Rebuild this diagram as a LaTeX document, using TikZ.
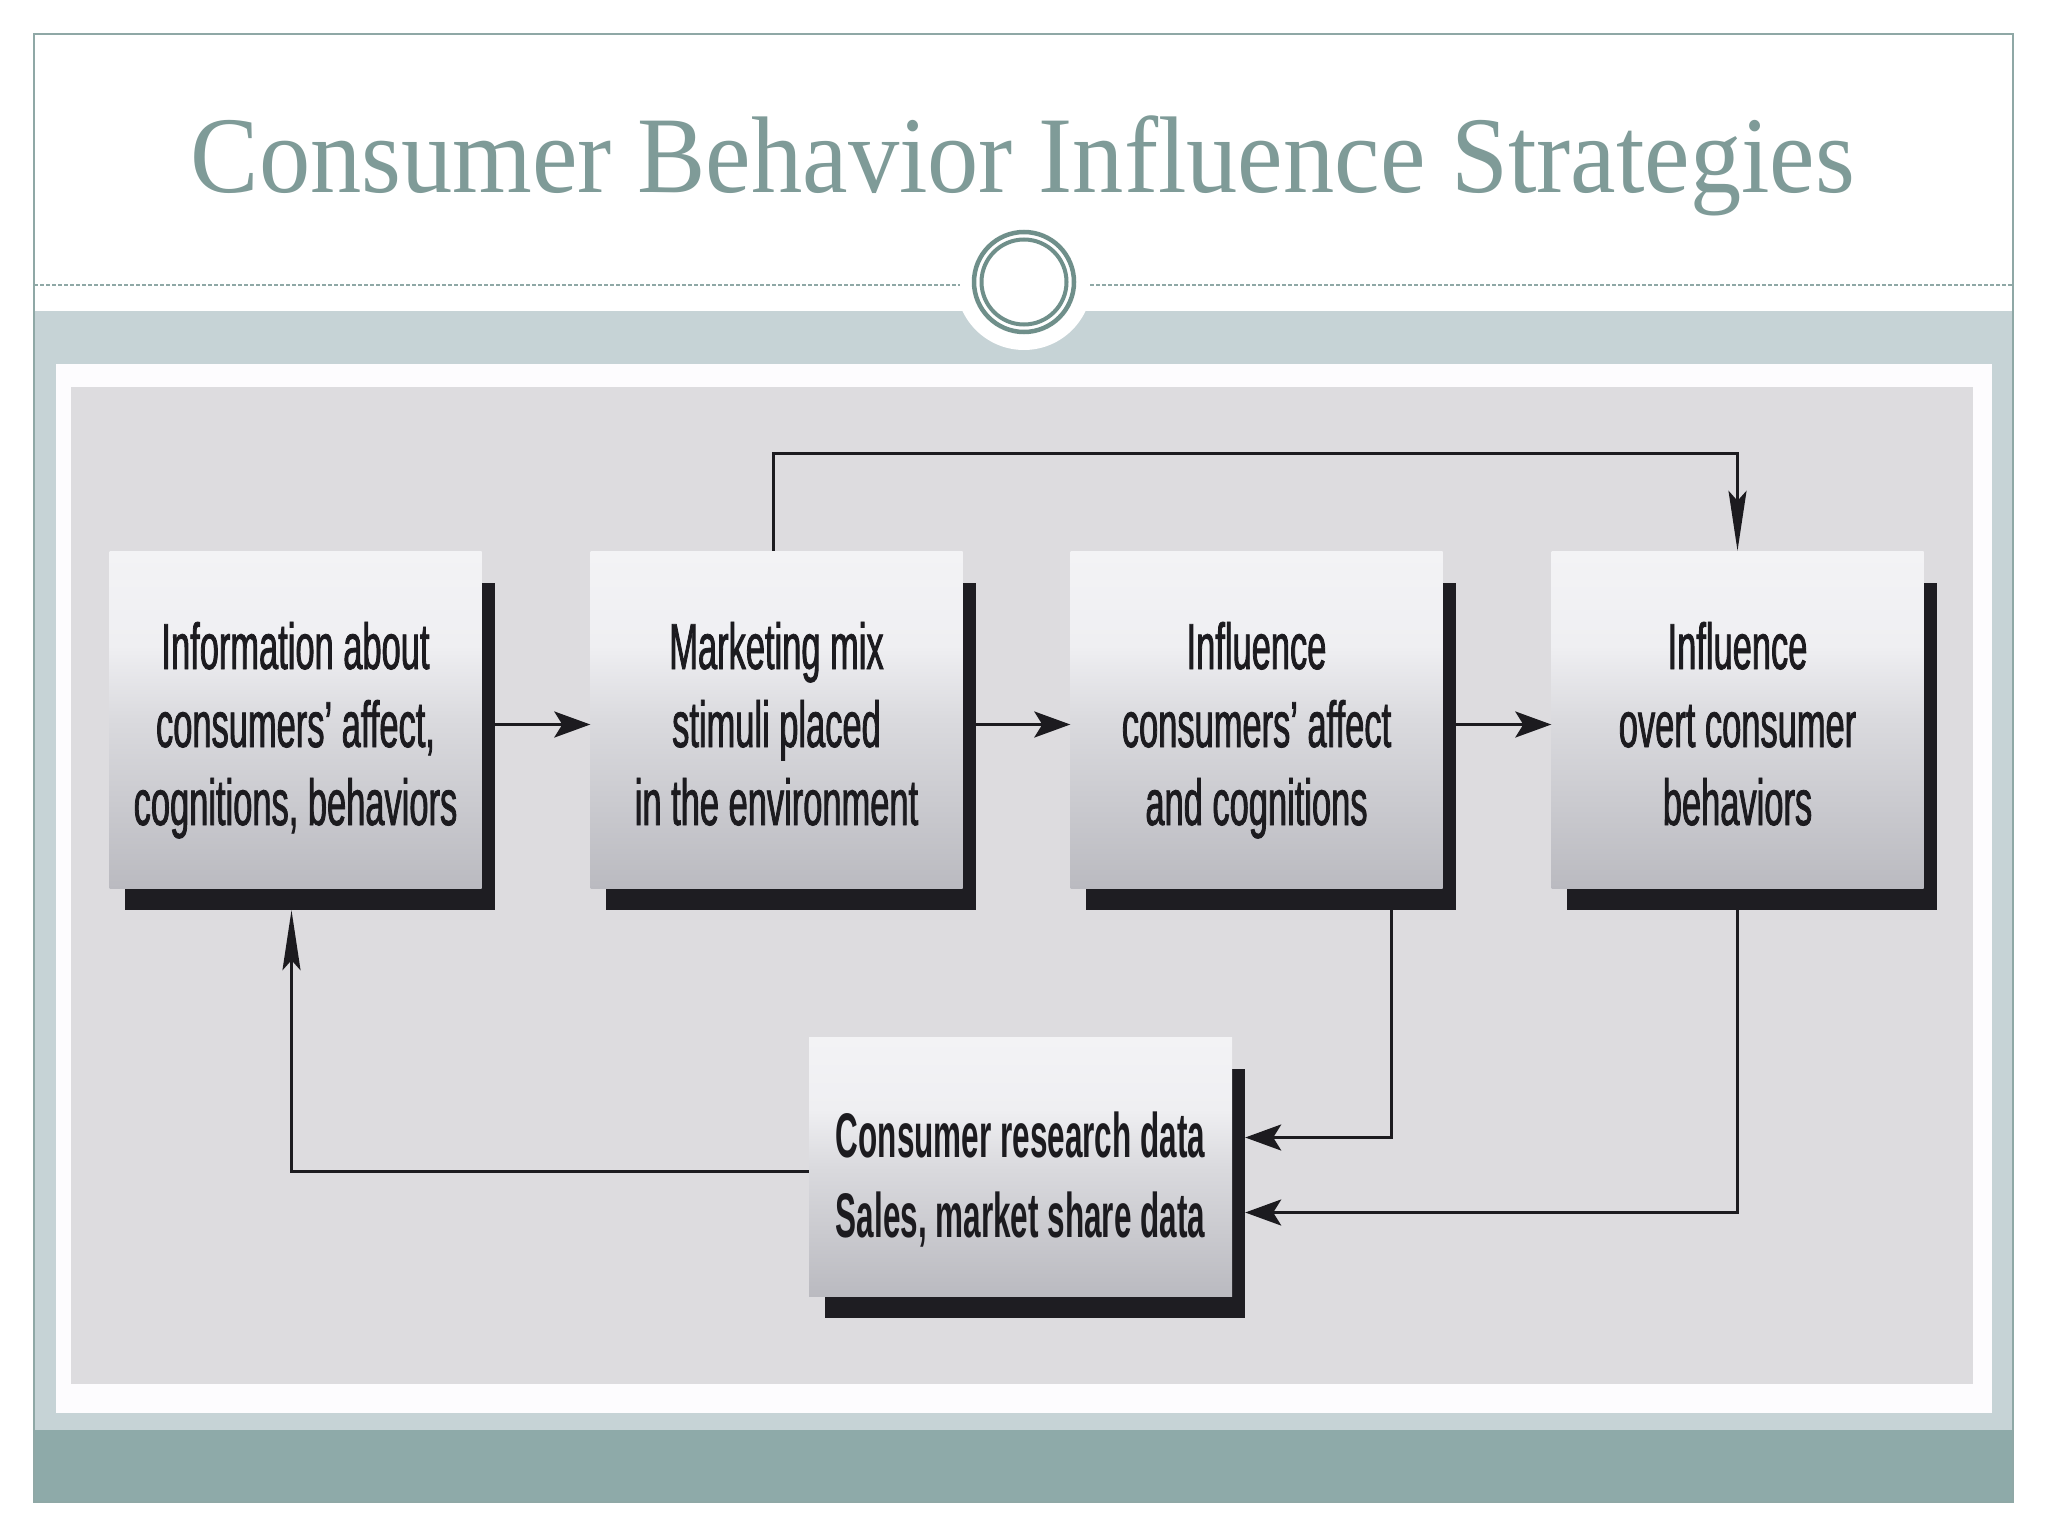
\documentclass[tikz,border=0pt]{standalone}
\usepackage{fontspec}
\usetikzlibrary{arrows.meta,calc}
\newfontfamily\titlefont[FakeStretch=0.94]{Liberation Serif}
\newfontfamily\boxfont[FakeStretch=0.53,FakeBold=1.2]{Liberation Sans}
\newfontfamily\boxfontb[FakeStretch=0.50]{Liberation Sans}
\newcommand\tstr[1]{\rule{0pt}{#1}}
\newcommand\bstr[1]{\rule[-#1]{0pt}{0pt}}
\definecolor{titlec}{HTML}{7F9B98}
\definecolor{framec}{HTML}{8FA8A6}
\definecolor{bandc}{HTML}{C6D3D6}
\definecolor{panelc}{HTML}{FDFCFE}
\definecolor{grayc}{HTML}{DDDCDF}
\definecolor{tealc}{HTML}{8EAAA9}
\definecolor{ringc}{HTML}{6F8F8A}
\definecolor{inkc}{HTML}{1C1B1F}
\definecolor{shadowc}{HTML}{1E1D22}
\definecolor{btop}{HTML}{F3F3F5}
\definecolor{bhi}{HTML}{EFEFF2}
\definecolor{bmid}{HTML}{DADADE}
\definecolor{bbot}{HTML}{BABAC0}
\pgfdeclareverticalshading{boxshade}{100bp}{color(0bp)=(bbot); color(25bp)=(bbot); color(50bp)=(bmid); color(61bp)=(bhi); color(75bp)=(btop); color(100bp)=(btop)}
\pgfdeclarelayer{bg}
\pgfdeclarelayer{shad}
\pgfsetlayers{bg,shad,main}
\tikzset{
  box/.style={shading=boxshade, minimum width=372pt, minimum height=337pt,
    inner sep=0pt, align=center, text=inkc,
    font=\boxfont\fontsize{65}{78}\selectfont},
  databox/.style={box, minimum width=423pt, minimum height=259pt,
    font=\boxfontb\bfseries\fontsize{63}{80}\selectfont},
  shadowbox/.style={fill=shadowc},
  harrow/.style={draw=inkc, line width=3pt, -{Stealth[length=36pt,width=26pt,inset=8pt]}},
  varrow/.style={draw=inkc, line width=3pt, -{Stealth[length=60pt,width=18pt,inset=10pt]}},
  titlestyle/.style={anchor=base, inner sep=0pt, text=titlec,
    font=\titlefont\fontsize{109}{120}\selectfont}
}
\begin{document}
\begin{tikzpicture}[x=1pt,y=-1pt]
\useasboundingbox (0,0) rectangle (2048,1536);
\begin{pgfonlayer}{bg}
  \fill[white] (0,0) rectangle (2048,1536);
  \fill[bandc] (34,311) rectangle (2013,1430);
  \fill[tealc] (34,1430) rectangle (2013,1502);
  \fill[panelc] (56,364) rectangle (1992,1413);
  \fill[grayc] (71,387) rectangle (1973,1384);
  \fill[white] (1024,282) circle[radius=68pt];
  \draw[ringc, line width=4.5pt] (1024,282) circle[radius=50pt];
  \draw[ringc, line width=4pt] (1024,282) circle[radius=42.5pt];
  \draw[framec, line width=2pt, dash pattern=on 4pt off 2pt] (34,285) -- (960,285) (1090,285) -- (2013,285);
  \draw[framec, line width=2pt] (34,34) rectangle (2013,1502);
  \node[titlestyle] (title) at (1023,192) {Consumer Behavior Influence Strategies};
\end{pgfonlayer}

\node[box] (b1) at (295.5,719.5) {\tstr{75pt}Information about\\consumers’ affect,\\cognitions, behaviors\bstr{20pt}};
\node[box] (b2) at (776.5,719.5) {\tstr{75pt}Marketing mix\\stimuli placed\\in the environment\bstr{20pt}};
\node[box] (b3) at (1256.5,719.5) {\tstr{75pt}Influence\\consumers’ affect\\and cognitions\bstr{20pt}};
\node[box] (b4) at (1737.5,719.5) {\tstr{75pt}Influence\\overt consumer\\behaviors\bstr{20pt}};
\node[databox] (b5) at (1020.5,1166.5) {\tstr{81pt}Consumer research data\\Sales, market share data\bstr{20pt}};

\begin{pgfonlayer}{shad}
  \foreach \n in {b1,b2,b3,b4,b5}
    \fill[shadowbox] ([shift={(16pt,-32pt)}]\n.north west) rectangle ([shift={(13pt,-22pt)}]\n.south east);
\end{pgfonlayer}

\draw[harrow] ([shift={(13pt,-5pt)}]b1.east) -- ([yshift=-5pt]b2.west);
\draw[harrow] ([shift={(13pt,-5pt)}]b2.east) -- ([yshift=-5pt]b3.west);
\draw[harrow] ([shift={(13pt,-5pt)}]b3.east) -- ([yshift=-5pt]b4.west);
\draw[varrow] ([xshift=-3pt]b2.north) -- ++(0,-97) -| (b4.north);
\draw[harrow] ([shift={(135pt,-22pt)}]b3.south) |- ([shift={(13pt,29pt)}]b5.east);
\draw[harrow] ([yshift=-22pt]b4.south) |- ([shift={(13pt,-46pt)}]b5.east);
\draw[varrow] ([yshift=-5pt]b5.west) -| ([shift={(-4pt,-22pt)}]b1.south);
\end{tikzpicture}
\end{document}
